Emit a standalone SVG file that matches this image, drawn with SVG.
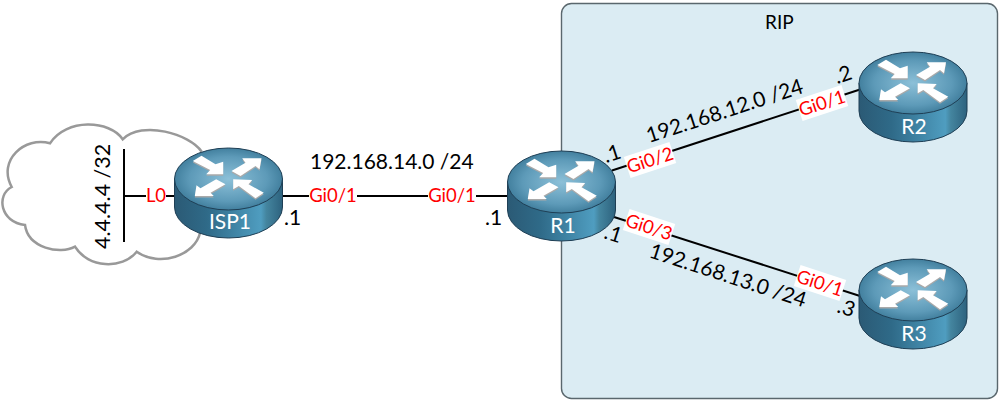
<svg xmlns="http://www.w3.org/2000/svg" width="1000" height="401" viewBox="0 0 1000 401">
<style>
text{font-family:Lato,"Open Sans","Liberation Sans",sans-serif;fill:#000}
.lb{font-size:19px}
.ip{font-size:21px}
.if{font-size:18.5px;fill:#f00;text-anchor:middle}
.nm{font-size:21px;fill:#fff;text-anchor:middle}
.ln{stroke:#000;stroke-width:2;fill:none}
.bg{fill:#fff}
</style>
<defs>
<linearGradient id="side" x1="0" x2="1" y1="0" y2="0">
<stop offset="0" stop-color="#2b5a75"/><stop offset="0.3" stop-color="#2f6a88"/><stop offset="0.8" stop-color="#4f9dc0"/><stop offset="0.85" stop-color="#44859f"/><stop offset="1" stop-color="#2d627e"/>
</linearGradient>
<radialGradient id="top" cx="0.5" cy="0.5" r="0.6">
<stop offset="0" stop-color="#8cc0d8"/><stop offset="0.6" stop-color="#5d9ab8"/><stop offset="1" stop-color="#2f6d8c"/>
</radialGradient>
<g id="arrows">
<polygon points="-35.7,13 -27,7.7 -13,16.3 -5.3,13.7 -5.3,26.3 -22.3,26.3 -18.3,22"/>
<polygon points="3,23 17,14.7 13.7,10.3 33,10.3 31,21.3 27,18 12,28"/>
<polygon points="-12.3,31.3 -3,36.3 -18,44.7 -14.7,48 -33.7,48 -32,37.3 -28,40.3"/>
<polygon points="4.7,31.3 23.7,32 20,36.3 35.3,44.7 27,50.3 10.3,38 4.7,41.3"/>
</g>
<g id="router">
<path d="M-54,31V59A54,31 0 0 0 54,59V31Z" fill="url(#side)" stroke="#1f3f55" stroke-width="1"/>
<ellipse cx="0" cy="31" rx="54" ry="31" fill="url(#top)" stroke="#1f3f55" stroke-width="1"/>
<use href="#arrows" y="1.5" fill="#a9a9a9"/>
<use href="#arrows" fill="#fff"/>
</g>
</defs>
<rect id="rip-area" x="561.5" y="3.5" width="436" height="395" rx="10" fill="#dbecf3" stroke="#5a676d" stroke-width="1.4"/>
<text class="lb" x="765" y="29">RIP</text>
<path id="cloud" d="M201.7,151.7C190,134 142,120 122.7,139.3C110,120 66,118 50,143.3C25,136 -3,160 11.7,187C-4,195 0,222 25,225C28,248 60,255 75,246.7C88,268 122,270 136.7,251.7C160,268 195,255 200,233" fill="#fff" stroke="#999" stroke-width="2.5"/>
<g id="connectors">
<path class="ln" d="M124,196H176M282,196H508"/>
<path class="ln" d="M124,149V242"/>
<path class="ln" d="M612,170.5L860,89.5"/>
<path class="ln" d="M614,217L860,296"/>
</g>
<g id="link-labels">
<rect class="bg" x="146" y="187" width="20" height="18"/>
<text class="if" x="156" y="202">L0</text>
<rect class="bg" x="309" y="186" width="48" height="19"/>
<text class="if" x="333" y="202">Gi0/1</text>
<rect class="bg" x="428" y="186" width="48" height="19"/>
<text class="if" x="452" y="202">Gi0/1</text>
<g transform="translate(650,160) rotate(-18)"><rect class="bg" x="-24" y="-11" width="48" height="22"/><text class="if" y="6.5">Gi0/2</text></g>
<g transform="translate(822,103) rotate(-18)"><rect class="bg" x="-24" y="-11" width="48" height="22"/><text class="if" y="6.5">Gi0/1</text></g>
<g transform="translate(649,227) rotate(18)"><rect class="bg" x="-24" y="-11" width="48" height="22"/><text class="if" y="6.5">Gi0/3</text></g>
<g transform="translate(820,283) rotate(18)"><rect class="bg" x="-24" y="-11" width="48" height="22"/><text class="if" y="6.5">Gi0/1</text></g>
<text class="ip" x="310" y="169">192.168.14.0 /24</text>
<text class="ip" transform="translate(649,143) rotate(-18)">192.168.12.0 /24</text>
<text class="ip" transform="translate(648,257) rotate(18)">192.168.13.0 /24</text>
<text class="ip" style="font-size:21.5px" transform="translate(110,249) rotate(-90)">4.4.4.4 /32</text>
<text class="ip" x="284" y="225">.1</text>
<text class="ip" x="485" y="225">.1</text>
<text class="ip" transform="translate(606,163) rotate(-18)">.1</text>
<text class="ip" transform="translate(603,238) rotate(18)">.1</text>
<text class="ip" transform="translate(837,84) rotate(-18)">.2</text>
<text class="ip" transform="translate(836,312) rotate(18)">.3</text>
</g>
<g id="ISP1"><use href="#router" x="228.5" y="148"/><text class="nm" x="230" y="229">ISP1</text></g>
<g id="R1"><use href="#router" x="561.5" y="151"/><text class="nm" x="563" y="233">R1</text></g>
<g id="R2"><use href="#router" x="913" y="52"/><text class="nm" x="914" y="134">R2</text></g>
<g id="R3"><use href="#router" x="913" y="259"/><text class="nm" x="914" y="341">R3</text></g>
</svg>
